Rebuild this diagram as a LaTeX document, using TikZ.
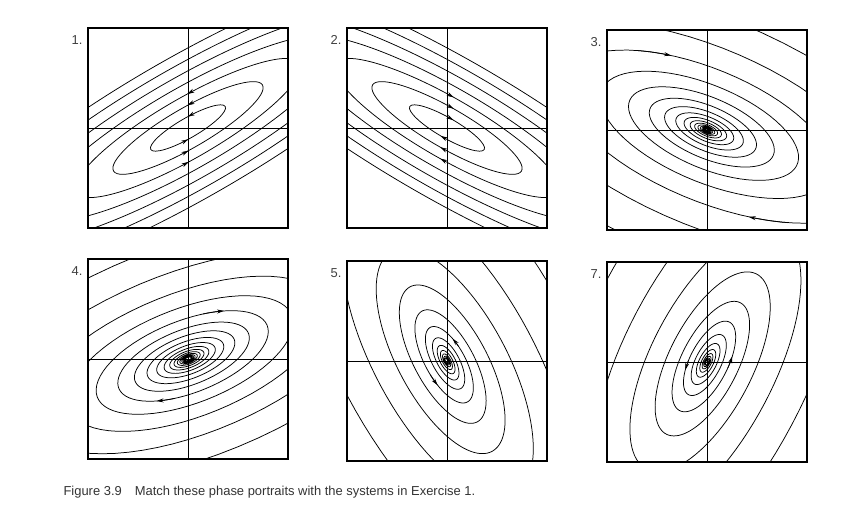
\documentclass[tikz,border=0pt]{standalone}
\usepackage{fontspec}
\setmainfont{Liberation Sans}
\usetikzlibrary{decorations.markings,arrows.meta}
\tikzset{
 frame/.style={draw,line width=1.1pt},
 axis/.style={line width=0.6pt},
 curve/.style={line width=0.75pt},
 tip/.style={line width=0.75pt,-{Stealth[length=7pt,width=4pt]}},
 lab/.style={font=\fontsize{13}{15}\selectfont, text=black!75},
 onearrow/.style={postaction={decorate,decoration={markings,
   mark=at position #1 with {\arrow{Stealth[length=7pt,width=4pt]}}}}},
 onerarrow/.style={postaction={decorate,decoration={markings,
   mark=at position #1 with {\arrow{Stealth[length=7pt,width=4pt,reversed]}}}}},
}
\newcommand\panelbox[3]{%
 \node[lab,anchor=east] (#1) at (#2-102,#3+88) {#1.};
}
\newcommand\axes[2]{%
 \draw[axis] (#1-100,#2) -- (#1+100,#2);
 \draw[axis] (#1,#2-100) -- (#1,#2+100);
}
% cx cy angle A B k dir maxdeg arrow-params
\newcommand\spiralpanel[9]{%
 \begin{scope}
 \clip (#1-100,#2-100) rectangle (#1+100,#2+100);
 \begin{scope}[shift={(#1,#2)},rotate=#3]
 \draw[curve]
   plot[domain=0:#8,samples=1200] ({#4*exp(-#6*\x)*cos(#7*\x)},{#5*exp(-#6*\x)*sin(#7*\x)});
 \foreach \p in {#9}{
 \draw[tip]
   plot[domain=\p:\p+15,samples=6] ({#4*exp(-#6*\x)*cos(#7*\x)},{#5*exp(-#6*\x)*sin(#7*\x)});
 }
 \end{scope}
 \end{scope}
 \axes{#1}{#2}
}
\begin{document}
\begin{tikzpicture}[x=1bp,y=1bp]
\useasboundingbox (0,0) rectangle (859,517);
% panel 1
\begin{scope}
 \clip (88,289) rectangle (288,489);
 \begin{scope}[shift={(188,389)},rotate=30]
 \foreach \b in {10,20,30,40,50,60,70}
  \draw[curve] (0,0) ellipse ({4.3*\b} and \b);
 \foreach \b in {10,20,30}{
  \path[onearrow=0.22] (0,0) ellipse ({4.3*\b} and \b);
  \path[onearrow=0.72] (0,0) ellipse ({4.3*\b} and \b);}
 \end{scope}
\end{scope}
\axes{188}{389}
% panel 2
\begin{scope}
 \clip (347,289) rectangle (546,489);
 \begin{scope}[shift={(447,389)},rotate=-30]
 \foreach \b in {10,20,30,40,50,60,70}
  \draw[curve] (0,0) ellipse ({4.3*\b} and \b);
 \foreach \b in {10,20,30}{
  \path[onerarrow=0.28] (0,0) ellipse ({4.3*\b} and \b);
  \path[onerarrow=0.78] (0,0) ellipse ({4.3*\b} and \b);}
 \end{scope}
\end{scope}
\axes{447}{389}
% spirals
\spiralpanel{707}{387}{-22}{330}{140}{0.00085}{-1}{6300}{590,770,950}
\spiralpanel{188}{158}{22}{330}{140}{0.00075}{-1}{6300}{1730,1910}
\spiralpanel{447}{156}{-62}{330}{140}{0.0011}{1}{4500}{1715,1900}
\spiralpanel{707}{155}{62}{330}{140}{0.0011}{1}{4500}{1715,1900}
% frames
\foreach \cx/\cy in {188/389,447/389,707/387,188/158,447/156,707/155}
 \draw[frame] (\cx-100,\cy-100) rectangle (\cx+100,\cy+100);
\panelbox{1}{188}{389}
\panelbox{2}{447}{389}
\panelbox{3}{707}{387}
\panelbox{4}{188}{158}
\panelbox{5}{447}{156}
\panelbox{7}{707}{155}
\node[anchor=west,font=\fontsize{13}{15}\selectfont,text=black!80] (cap) at (60,25)
 {Figure 3.9\quad Match these phase portraits with the systems in Exercise 1.};
\end{tikzpicture}
\end{document}
